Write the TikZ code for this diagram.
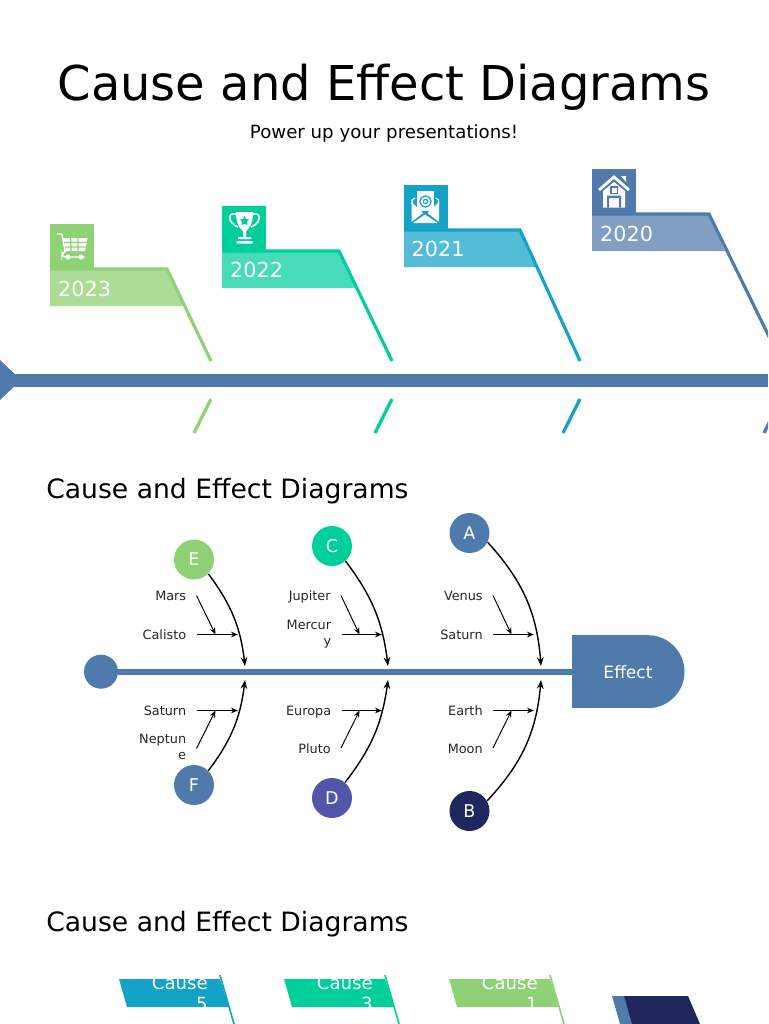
\documentclass[tikz,border=0pt]{standalone}
\usepackage{fontspec}
\setmainfont{DejaVu Sans}
\usetikzlibrary{positioning, arrows.meta}
\definecolor{cgreen}{HTML}{8FD175}
\definecolor{cteal}{HTML}{00CF9B}
\definecolor{ccyan}{HTML}{14A3C7}
\definecolor{csteel}{HTML}{4F7AAB}
\definecolor{cindigo}{HTML}{5156A8}
\definecolor{cnavy}{HTML}{20265E}
\tikzset{
    bone/.style={line width=1.8pt},
    yearlabel/.style={anchor=west, text=white, font=\fontsize{11.8}{14}\selectfont},
    iconbox/.style={minimum width=0.88cm, minimum height=0.88cm, inner sep=0pt, anchor=north west},
    causedot/.style={circle, minimum size=0.8cm, inner sep=0pt, text=white, font=\fontsize{10}{12}\selectfont},
    planet/.style={anchor=east, align=right, inner sep=5.7pt, font=\fontsize{7.3}{9.2}\selectfont, text=black!85, execute at begin node=\rule{0pt}{7.5pt}, execute at end node=\rule[-1.6pt]{0pt}{1.6pt}},
    mainarrow/.style={-{Stealth[length=5pt,width=3.8pt]}, line width=0.8pt},
    subarrow/.style={-{Stealth[length=4pt,width=3.2pt]}, line width=0.55pt},
    flagtext/.style={anchor=north east, align=right, text=white, inner sep=0pt, font=\fontsize{10.3}{12}\selectfont}
}
\begin{document}
\begin{tikzpicture}[x=0.02cm, y=-0.02cm]
    \useasboundingbox (0,0) rectangle (768,1024);
    \clip (0,0) rectangle (768,1024);
    % Titles
    \node[font=\fontsize{27.3}{30}\selectfont] (title) at (384,87.5) {Cause and Effect Diagrams};
    \node[font=\fontsize{10.35}{12}\selectfont] (subtitle) at (384,133.5) {Power up your presentations!};
    \node[anchor=west, inner sep=0pt, font=\fontsize{15.15}{18}\selectfont] (headb) at (46,491) {Cause and Effect Diagrams};
    \node[anchor=west, inner sep=0pt, font=\fontsize{15.15}{18}\selectfont] (headc) at (46,924) {Cause and Effect Diagrams};

    % Spine of the first fish
    \fill[csteel] (0,360) -- (21,380) -- (0,400) -- cycle;
    \fill[csteel] (10,374) rectangle (768,386.5);

    % Flags
    \fill[cgreen!75!white] (50,268) -- (167,268) -- (183,306) -- (50,306) -- cycle;
    \fill[cteal!72!white] (222,250) -- (339,250) -- (355,288) -- (222,288) -- cycle;
    \fill[ccyan!73!white] (404,230) -- (520,230) -- (536,267) -- (404,267) -- cycle;
    \fill[csteel!72!white] (592,214) -- (709,214) -- (725,251) -- (592,251) -- cycle;
    \node[yearlabel] (y2023) at (52,288.5) {2023};
    \node[yearlabel] (y2022) at (224,270) {2022};
    \node[yearlabel] (y2021) at (405.5,249) {2021};
    \node[yearlabel] (y2020) at (594,233.5) {2020};

    % Bones
    \draw[bone, cgreen] (50,269) -- (167,269) -- (211,361);
    \draw[bone, cteal] (222,251) -- (339,251) -- (392,361);
    \draw[bone, ccyan] (404,230) -- (520,230) -- (580,361);
    \draw[bone, csteel] (592,214) -- (709,214) -- (781,361);
    \draw[bone, cgreen] (211,399) -- (194,433);
    \draw[bone, cteal] (392,399) -- (375,433);
    \draw[bone, ccyan] (580,399) -- (563,433);
    \draw[bone, csteel] (781,399) -- (764,433);

    % Icon boxes
    \node[iconbox, fill=cgreen] (icart) at (50,224) {};
    \node[iconbox, fill=cteal] (icup) at (222,206) {};
    \node[iconbox, fill=ccyan] (imail) at (404,185) {};
    \node[iconbox, fill=csteel] (ihome) at (592,169) {};

    % Cart
    \draw[white, line width=0.8pt] (57,233.5) -- (62,234.5) -- (65,251);
    \fill[white] (63,238) -- (87.5,238) -- (85,251) -- (66,251) -- cycle;
    \draw[cgreen, line width=0.8pt] (70.5,238) -- (71,251) (78,238) -- (78,251) (64,242.5) -- (87,242.5) (65,247) -- (86,247);
    \draw[white, line width=0.8pt, rounded corners=2pt] (66,251) -- (62,253) -- (62,257) -- (85,257);
    \fill[white] (68,257) circle (2.6) (81,257) circle (2.6);

    % Trophy
    \draw[white, line width=0.9pt] (236,214) .. controls (226,212) and (229,224) .. (238,227);
    \draw[white, line width=0.9pt] (253,214) .. controls (263,212) and (260,224) .. (251,227);
    \fill[white] (236,212) -- (253,212) .. controls (253,224) and (249,229) .. (246,231) -- (246,237) -- (243,237) -- (243,231) .. controls (240,229) and (236,224) .. (236,212) -- cycle;
    \fill[white] (238,237) rectangle (251,239) (236.5,241) rectangle (252.5,243.5);
    \fill[cteal] (244.5,216) -- (246,219) -- (249,219.5) -- (247,222) -- (247.5,225) -- (244.5,223.8) -- (241.5,225) -- (242,222) -- (240,219.5) -- (243,219) -- cycle;

    % Mail
    \fill[white] (417,191) rectangle (434,211);
    \draw[ccyan, line width=0.7pt] (425.5,201.5) circle (5.6);
    \draw[ccyan, line width=0.6pt] (425.5,201.5) circle (2.2);
    \fill[white] (411.5,202) -- (423,213) -- (411.5,222) -- cycle;
    \fill[white] (439,202) -- (427.5,213) -- (439,222) -- cycle;
    \fill[white] (413,223) -- (425,214.5) -- (437.5,223) -- cycle;
    \draw[white, line width=0.7pt] (412,204) -- (412,200) -- (415,198) (438.5,204) -- (438.5,200) -- (436,198);

    % House
    \fill[white] (621,176) -- (626,176) -- (626,182) -- cycle;
    \draw[white, line width=1.6pt] (599,190) -- (614,177) -- (629,190);
    \fill[white] (603,191) -- (614,182) -- (625,191) -- (625,207.5) -- (603,207.5) -- cycle;
    \fill[csteel] (610,186) rectangle (618,194);
    \fill[white] (611.5,187.5) rectangle (616.5,192.5);
    \fill[csteel] (607,195.5) rectangle (621,198) (607,198) rectangle (609,207.5) (619,198) rectangle (621,207.5);

    % Second fish
    \node[circle, fill=csteel, minimum size=0.68cm, inner sep=0pt] (tail) at (101,671.7) {};
    \node[fill=csteel, minimum width=1.52cm, minimum height=1.46cm, inner sep=0pt, anchor=west] (effectbox) at (572,671.7) {};
    \fill[csteel] (648,635.2) arc (-90:90:36.5) -- cycle;
    \node[text=white, font=\fontsize{9.7}{12}\selectfont] (effect) at (628,672.5) {Effect};
    \draw[csteel, line width=3.2pt] (tail) -- (effectbox);

    \node[causedot, fill=cgreen] (E) at (194,559.5) {E};
    \node[causedot, fill=cteal] (C) at (332,546) {C};
    \node[causedot, fill=csteel] (A) at (469.5,533) {A};
    \node[causedot, fill=csteel] (F) at (194,785) {F};
    \node[causedot, fill=cindigo] (D) at (332,798) {D};
    \node[causedot, fill=cnavy] (B) at (469.5,811) {B};

    % Arrow ends on the spine
    \coordinate (tipE) at (245,666);
    \coordinate (tipC) at (388,666);
    \coordinate (tipA) at (541,666);
    \coordinate (tipF) at (245,680);
    \coordinate (tipD) at (388,680);
    \coordinate (tipB) at (541,680);
    \draw[mainarrow] (E.-45) to[bend left=15] (tipE);
    \draw[mainarrow] (C.-48) to[bend left=15] (tipC);
    \draw[mainarrow] (A.-27) to[bend left=19] (tipA);
    \draw[mainarrow] (F.45) to[bend right=15] (tipF);
    \draw[mainarrow] (D.50) to[bend right=15] (tipD);
    \draw[mainarrow] (B.30) to[bend right=19] (tipB);

    % Planets
    \node[planet] (mars) at (196.5,595.5) {Mars};
    \node[planet] (calisto) at (196.5,634.5) {Calisto};
    \node[planet] (saturnf) at (196.5,710.5) {Saturn};
    \node[planet] (neptune) at (196.5,748.5) {Neptun\\e};
    \node[planet] (jupiter) at (341,595.5) {Jupiter};
    \node[planet] (mercury) at (341.5,634.5) {Mercur\\y};
    \node[planet] (europa) at (341.5,710.5) {Europa};
    \node[planet] (pluto) at (341,748) {Pluto};
    \node[planet] (venus) at (493,595.5) {Venus};
    \node[planet] (saturna) at (493,634.5) {Saturn};
    \node[planet] (earth) at (493,710.5) {Earth};
    \node[planet] (moon) at (493,748) {Moon};

    \coordinate (hitE) at (238,634.5);
    \coordinate (hitF) at (238,710.5);
    \coordinate (hitC) at (382,634.5);
    \coordinate (hitD) at (382,710.5);
    \coordinate (hitA) at (534,634.5);
    \coordinate (hitB) at (534,710.5);
    \draw[subarrow] (calisto.east) -- (hitE);
    \draw[subarrow] (saturnf.east) -- (hitF);
    \draw[subarrow] (mercury.east) -- (hitC);
    \draw[subarrow] (europa.east) -- (hitD);
    \draw[subarrow] (saturna.east) -- (hitA);
    \draw[subarrow] (earth.east) -- (hitB);
    \coordinate (midE) at (215.5,634.5);
    \coordinate (midF) at (215.5,710.5);
    \coordinate (midC) at (359.5,634.5);
    \coordinate (midD) at (359.5,710.5);
    \coordinate (midA) at (511.5,634.5);
    \coordinate (midB) at (511.5,710.5);
    \draw[subarrow] (mars.east) -- (midE);
    \draw[subarrow] (neptune.east) -- (midF);
    \draw[subarrow] (jupiter.east) -- (midC);
    \draw[subarrow] (pluto.east) -- (midD);
    \draw[subarrow] (venus.east) -- (midA);
    \draw[subarrow] (moon.east) -- (midB);

    % Third part
    \fill[ccyan] (119,979) -- (220,979) -- (229,1007) -- (127,1007) -- cycle;
    \fill[cteal] (284,979) -- (385,979) -- (394,1007) -- (292,1007) -- cycle;
    \fill[cgreen] (449,979) -- (550,979) -- (559,1007) -- (457,1007) -- cycle;
    \draw[ccyan, line width=0.9pt] (220,975) -- (234,1024);
    \draw[cteal, line width=0.9pt] (385,975) -- (399,1024);
    \draw[cgreen, line width=0.9pt] (550,975) -- (564,1024);
    \node[flagtext] (cause5) at (208,976) {Cause\\5};
    \node[flagtext] (cause3) at (373,976) {Cause\\3};
    \node[flagtext] (cause1) at (538,976) {Cause\\1};
    \fill[csteel] (612,996) -- (630,996) -- (640,1024) -- (620,1024) -- cycle;
    \fill[cnavy] (624,996) -- (688,996) -- (700,1024) -- (632,1024) -- cycle;
\end{tikzpicture}
\end{document}
